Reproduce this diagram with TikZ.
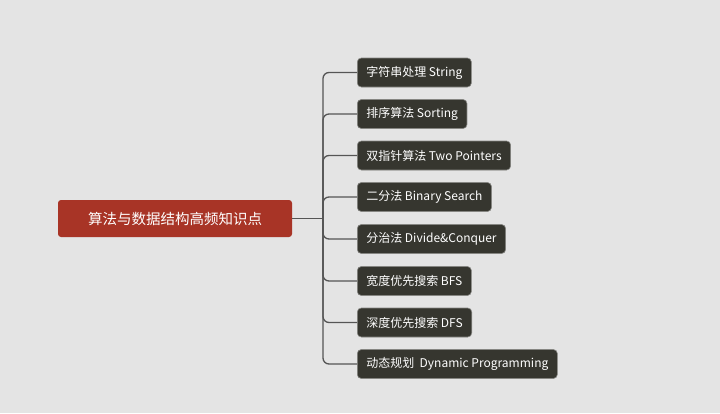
\documentclass[tikz,border=0pt]{standalone}
\usepackage{fontspec}
\newfontfamily\cjk{Noto Sans CJK SC}
\definecolor{bg}{HTML}{E4E4E4}
\definecolor{rootc}{HTML}{A83426}
\definecolor{kid}{HTML}{36362F}
\definecolor{ln}{HTML}{555555}
\begin{document}
\begin{tikzpicture}[x=1pt,y=-1pt,
  rootbox/.style={fill=rootc,text=white,rounded corners=3pt,minimum height=37pt,minimum width=234pt,font=\cjk\fontsize{14.5}{16}\selectfont,inner sep=0pt},
  kidbox/.style={fill=kid,text=white,rounded corners=4pt,minimum height=29pt,inner xsep=9pt,anchor=west,font=\cjk\fontsize{12}{14}\selectfont,draw=kid!60!white,line width=0.6pt},
  conn/.style={draw=ln,line width=1.3pt,rounded corners=6pt}]
\fill[bg] (0,0) rectangle (720,413);
\useasboundingbox (0,0) rectangle (720,413);
\node[rootbox] (r) at (175,218.5) {算法与数据结构高频知识点};
\coordinate (j) at (323,218.5);
\node[kidbox] (k1) at (357,72.5) {字符串处理 String};
\node[kidbox] (k2) at (357,114) {排序算法 Sorting};
\node[kidbox] (k3) at (357,155.5) {双指针算法 Two Pointers};
\node[kidbox] (k4) at (357,197) {二分法 Binary Search};
\node[kidbox] (k5) at (357,239) {分治法 Divide\&Conquer};
\node[kidbox] (k6) at (357,281) {宽度优先搜索 BFS};
\node[kidbox] (k7) at (357,322.5) {深度优先搜索 DFS};
\node[kidbox] (k8) at (357,364) {动态规划\ \ Dynamic Programming};
\draw[conn] (r.east) -- (j);
\foreach \k in {k1,k2,k3,k4,k5,k6,k7,k8}{\draw[conn] (j) |- (\k.west);}
\end{tikzpicture}
\end{document}
